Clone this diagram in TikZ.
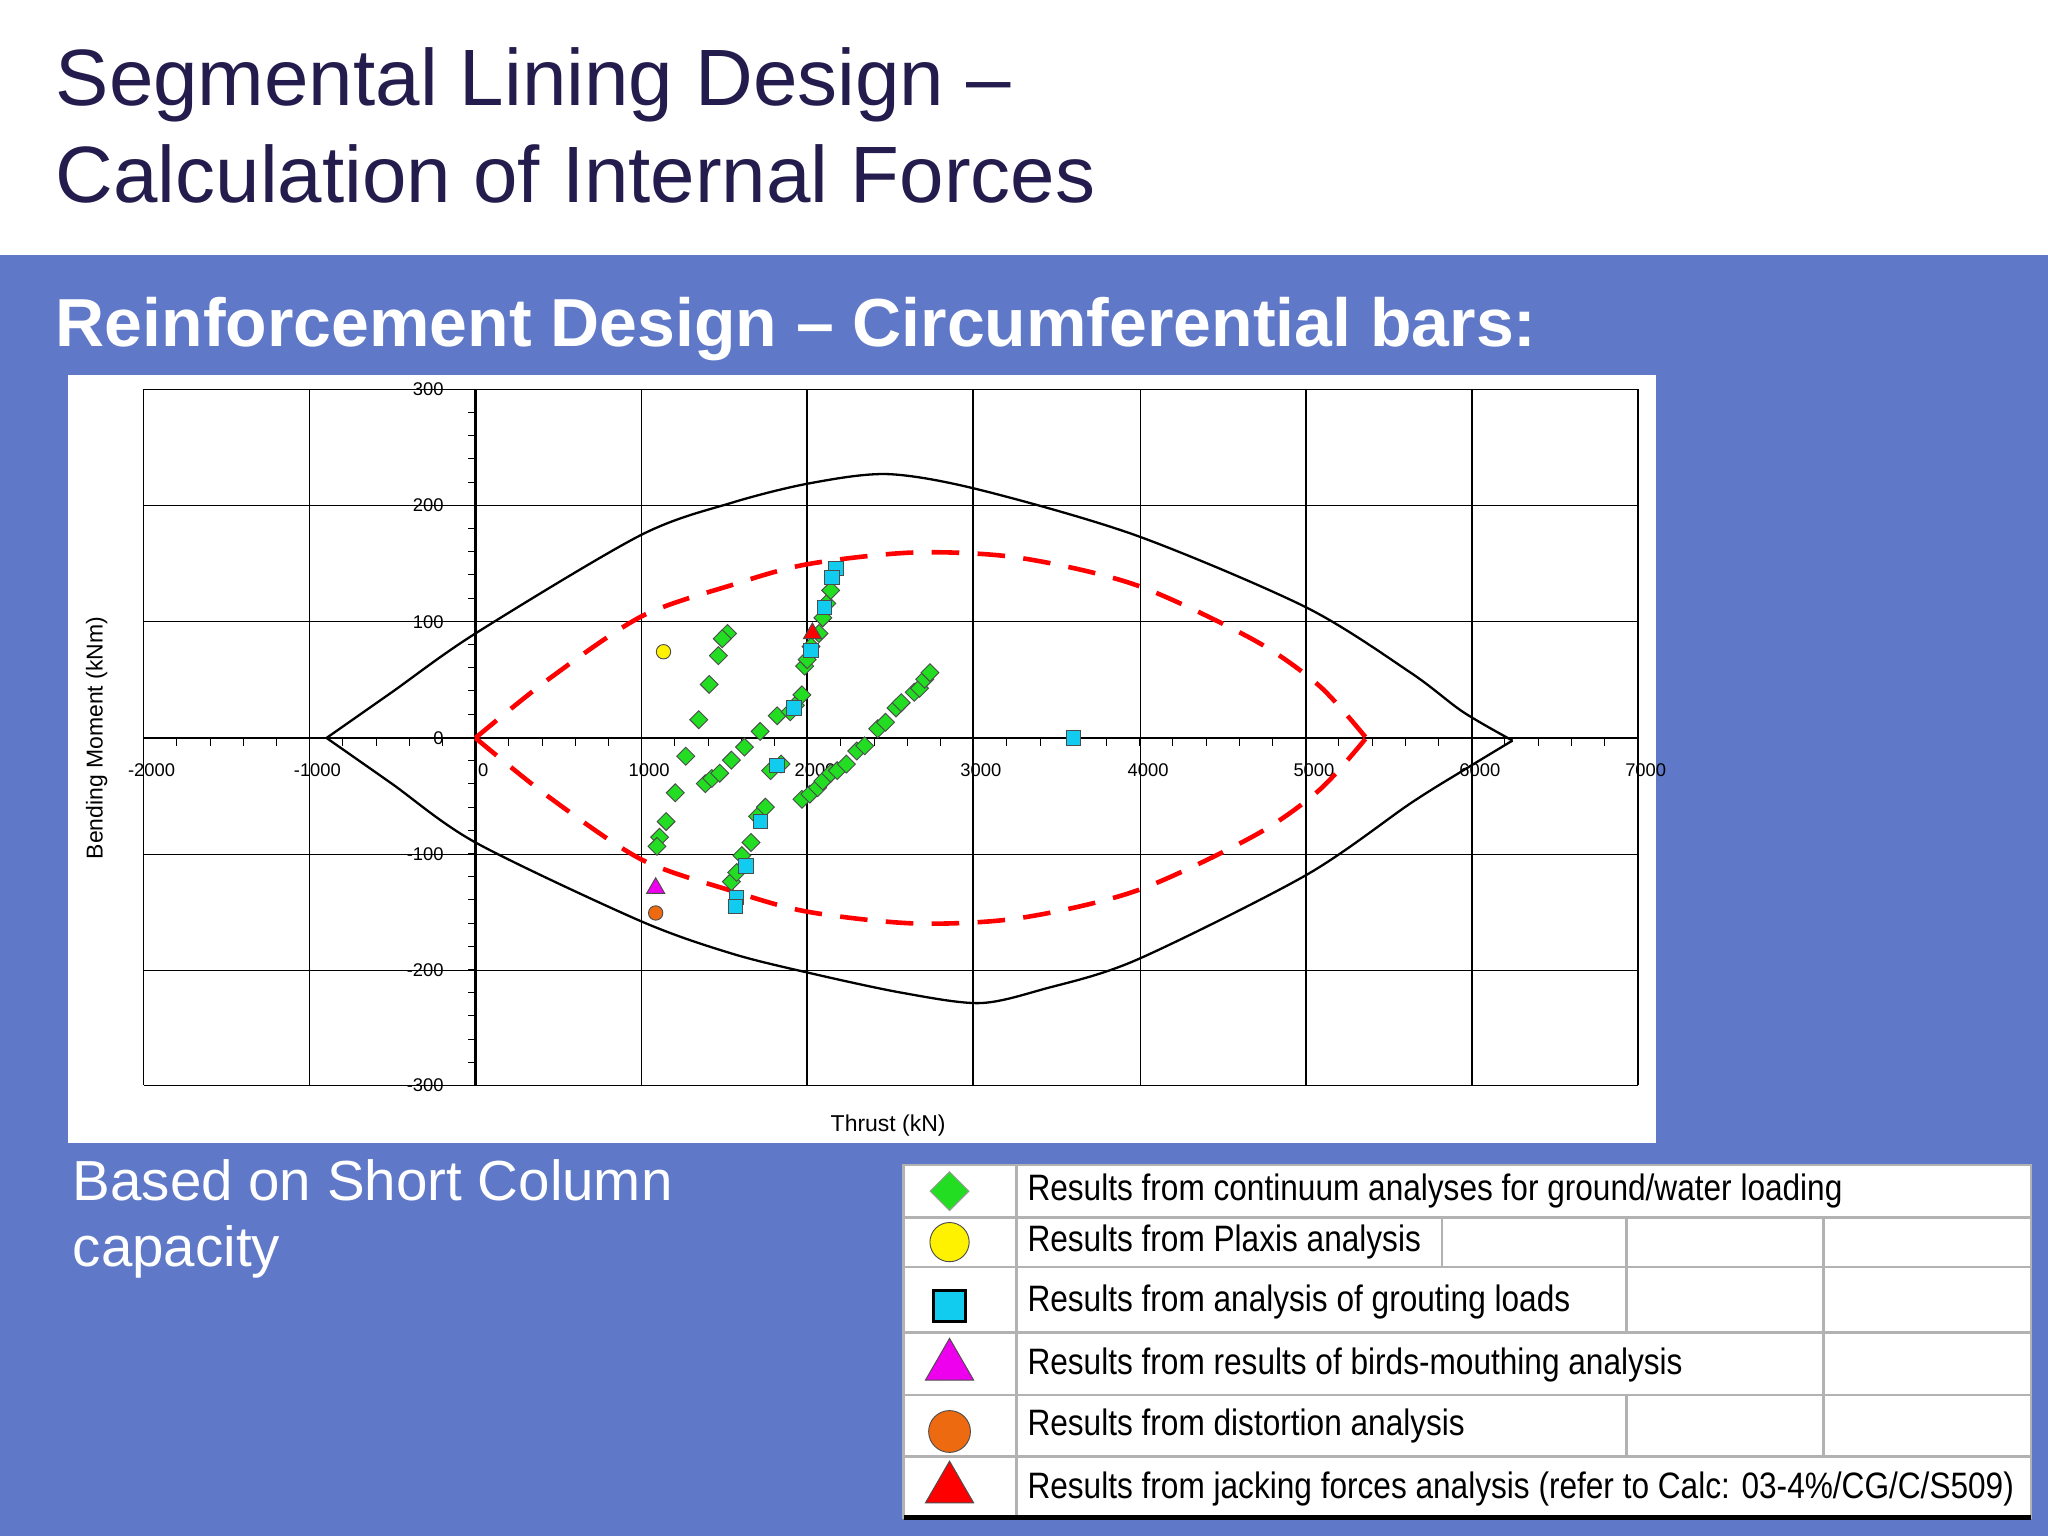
\documentclass[tikz,border=0pt]{standalone}
\usepackage{fontspec}
\setmainfont{Liberation Sans}
\usetikzlibrary{shapes.geometric}
\definecolor{slideblue}{HTML}{5F79C8}
\definecolor{navy}{HTML}{241C4C}
\definecolor{mgreen}{HTML}{22DD22}
\definecolor{mcyan}{HTML}{11CCEE}
\definecolor{morange}{HTML}{EE6A10}
\definecolor{mmag}{HTML}{EE00EE}
\newcommand{\sqz}[1]{\scalebox{0.86}[1]{#1}}
\tikzset{
 gd/.style={diamond,draw=black!70,line width=0.2pt,fill=mgreen,inner sep=0pt,minimum size=0.14cm},
 cy/.style={rectangle,draw=black!70,line width=0.2pt,fill=mcyan,inner sep=0pt,minimum size=0.11cm},
 yc/.style={circle,draw=black!70,line width=0.2pt,fill=yellow,inner sep=0pt,minimum size=0.11cm},
 oc/.style={circle,draw=black!70,line width=0.2pt,fill=morange,inner sep=0pt,minimum size=0.11cm},
 mt/.style={isosceles triangle,shape border rotate=90,isosceles triangle apex angle=60,draw=black!70,line width=0.2pt,fill=mmag,inner sep=0pt,minimum size=0.12cm},
 rt/.style={isosceles triangle,shape border rotate=90,isosceles triangle apex angle=60,draw=black!70,line width=0.2pt,fill=red,inner sep=0pt,minimum size=0.12cm},
 ax/.style={font=\fontsize{4}{5}\selectfont},
 lg/.style={font=\fontsize{8}{9}\selectfont,anchor=west,inner sep=0pt},
}
\begin{document}
\begin{tikzpicture}[x=0.01cm,y=-0.01cm]
\useasboundingbox (0,0) rectangle (1568,1176);
\fill[white] (0,0) rectangle (1568,195);
\fill[slideblue] (0,195) rectangle (1568,1176);
\node[anchor=west,inner sep=0pt,text=navy,font=\fontsize{17.4}{21}\selectfont,align=left] (title) at (42,96) {Segmental Lining Design –\\Calculation of Internal Forces};
\node[anchor=west,inner sep=0pt,text=white,font=\fontsize{14.8}{18}\selectfont\bfseries] (sub) at (42,252) {Reinforcement Design – Circumferential bars:};
\node[anchor=west,inner sep=0pt,text=white,font=\fontsize{12.3}{14.3}\selectfont,align=left] (based) at (55,933) {Based on Short Column\\capacity};
% chart
\fill[white] (52,287) rectangle (1268,875);
\foreach \x in {110,237,364,491,618,745,873,1000,1127,1254} \draw[line width=0.3pt] (\x,298) -- (\x,831);
\foreach \y in {298,387,476,565,654,743,831} \draw[line width=0.3pt] (110,\y) -- (1254,\y);
\draw[line width=0.5pt] (364,298) -- (364,831);
\draw[line width=0.5pt] (110,565) -- (1254,565);
\foreach \i in {0,...,45} \draw[line width=0.2pt] (110+\i*25.42,565) -- (110+\i*25.42,571);
\foreach \i in {0,...,30} \draw[line width=0.2pt] (364,298+\i*17.77) -- (358,298+\i*17.77);
\foreach \v/\x in {-2000/110,-1000/237,0/364,1000/491,2000/618,3000/745,4000/873,5000/1000,6000/1127,7000/1254}
  \node[ax] (xl\x) at (\x+6,590) {\v};
\foreach \v/\y in {300/298,200/387,100/476,0/565,-100/654,-200/743,-300/831}
  \node[ax,anchor=east] (yl\y) at (352,\y) {\v};
\node[ax,rotate=90,font=\fontsize{5}{6}\selectfont] (ylab) at (74,565) {Bending Moment (kNm)};
\node[ax,font=\fontsize{5}{6}\selectfont] (xlab) at (680,862) {Thrust (kN)};
% capacity curve
\draw[line width=0.5pt] plot[smooth] coordinates {(250,565) (300,530) (364,485) (490,410) (560,385) (620,370) (680,363) (750,375) (870,410) (1000,465) (1080,515) (1120,545) (1158,567)};
\draw[line width=0.5pt] plot[smooth] coordinates {(250,565) (300,600) (364,645) (490,705) (560,730) (620,745) (690,760) (750,768) (800,757) (870,735) (1000,670) (1080,615) (1120,590) (1158,567)};
\draw[red,line width=1pt,dash pattern=on 6pt off 4pt] plot[smooth] coordinates {(364,565) (420,520) (491,472) (560,448) (618,432) (700,423) (780,427) (870,448) (960,490) (1010,525) (1046,565)};
\draw[red,line width=1pt,dash pattern=on 6pt off 4pt] plot[smooth] coordinates {(364,565) (420,610) (491,658) (560,682) (618,698) (700,707) (780,703) (870,682) (960,640) (1010,605) (1046,565)};
% data
\foreach[count=\i] \p in {(557,485),(553,489),(550,502),(543,524),(535,551),(525,579),(517,607),(510,629),(505,641),(503,648),
 (540,600),(545,596),(551,592),(560,582),(570,572),(582,560),(595,548),(605,545),(609,540),(614,532),(616,510),(618,505),(621,495),(627,485),(630,473),(633,462),(636,452),
 (560,675),(564,668),(568,655),(575,645),(580,625),(586,618),(590,590),(598,585),
 (614,612),(620,608),(626,603),(630,598),(636,592),(641,590),(648,585),(656,575),(662,571),(672,558),(678,553),(686,542),(690,538),(700,530),(704,527),(708,520),(712,515)}
  \node[gd] (g\i) at \p {};
\foreach[count=\i] \p in {(640,435),(637,442),(631,465),(621,498),(608,542),(595,586),(582,629),(571,663),(564,687),(563,694),(822,565)}
  \node[cy] (c\i) at \p {};
\node[yc] (y1) at (508,499) {};
\node[mt] (m1) at (502,680) {};
\node[oc] (o1) at (502,699) {};
\node[rt] (r1) at (622,485) {};
% legend
\fill[white] (692,892) rectangle (1555,1162);
\begin{scope}[draw=black!30,line width=0.6pt]
\draw (692,892) rectangle (1555,1162);
\foreach \y in {932,970,1020,1068,1115} \draw (692,\y) -- (1555,\y);
\draw (778,892) -- (778,1162);
\draw (1104,932) -- (1104,970);
\foreach \x in {1245,1396} {\draw (\x,932) -- (\x,1020); \draw (\x,1068) -- (\x,1115);}
\draw (1396,1020) -- (1396,1068);
\end{scope}
\draw[black,line width=1pt] (692,1162) -- (1555,1162);
\node[gd,minimum size=0.3cm,draw=black!40] (lg1) at (727,912) {};
\node[yc,minimum size=0.3cm] (lg2) at (727,951) {};
\node[cy,minimum size=0.24cm,line width=0.6pt,draw=black] (lg3) at (727,1000) {};
\node[mt,minimum size=0.32cm] (lg4) at (727,1046) {};
\node[oc,minimum size=0.32cm] (lg5) at (727,1096) {};
\node[rt,minimum size=0.32cm] (lg6) at (727,1140) {};
\node[lg] (t1) at (786,912) {\sqz{Results from continuum analyses for ground/water loading}};
\node[lg] (t2) at (786,951) {\sqz{Results from Plaxis analysis}};
\node[lg] (t3) at (786,997) {\sqz{Results from analysis of grouting loads}};
\node[lg] (t4) at (786,1045) {\sqz{Results from results of birds-mouthing analysis}};
\node[lg] (t5) at (786,1092) {\sqz{Results from distortion analysis}};
\node[lg] (t6) at (786,1140) {\sqz{Results from jacking forces analysis (refer to Calc: 03-4\%/CG/C/S509)}};
\end{tikzpicture}
\end{document}
